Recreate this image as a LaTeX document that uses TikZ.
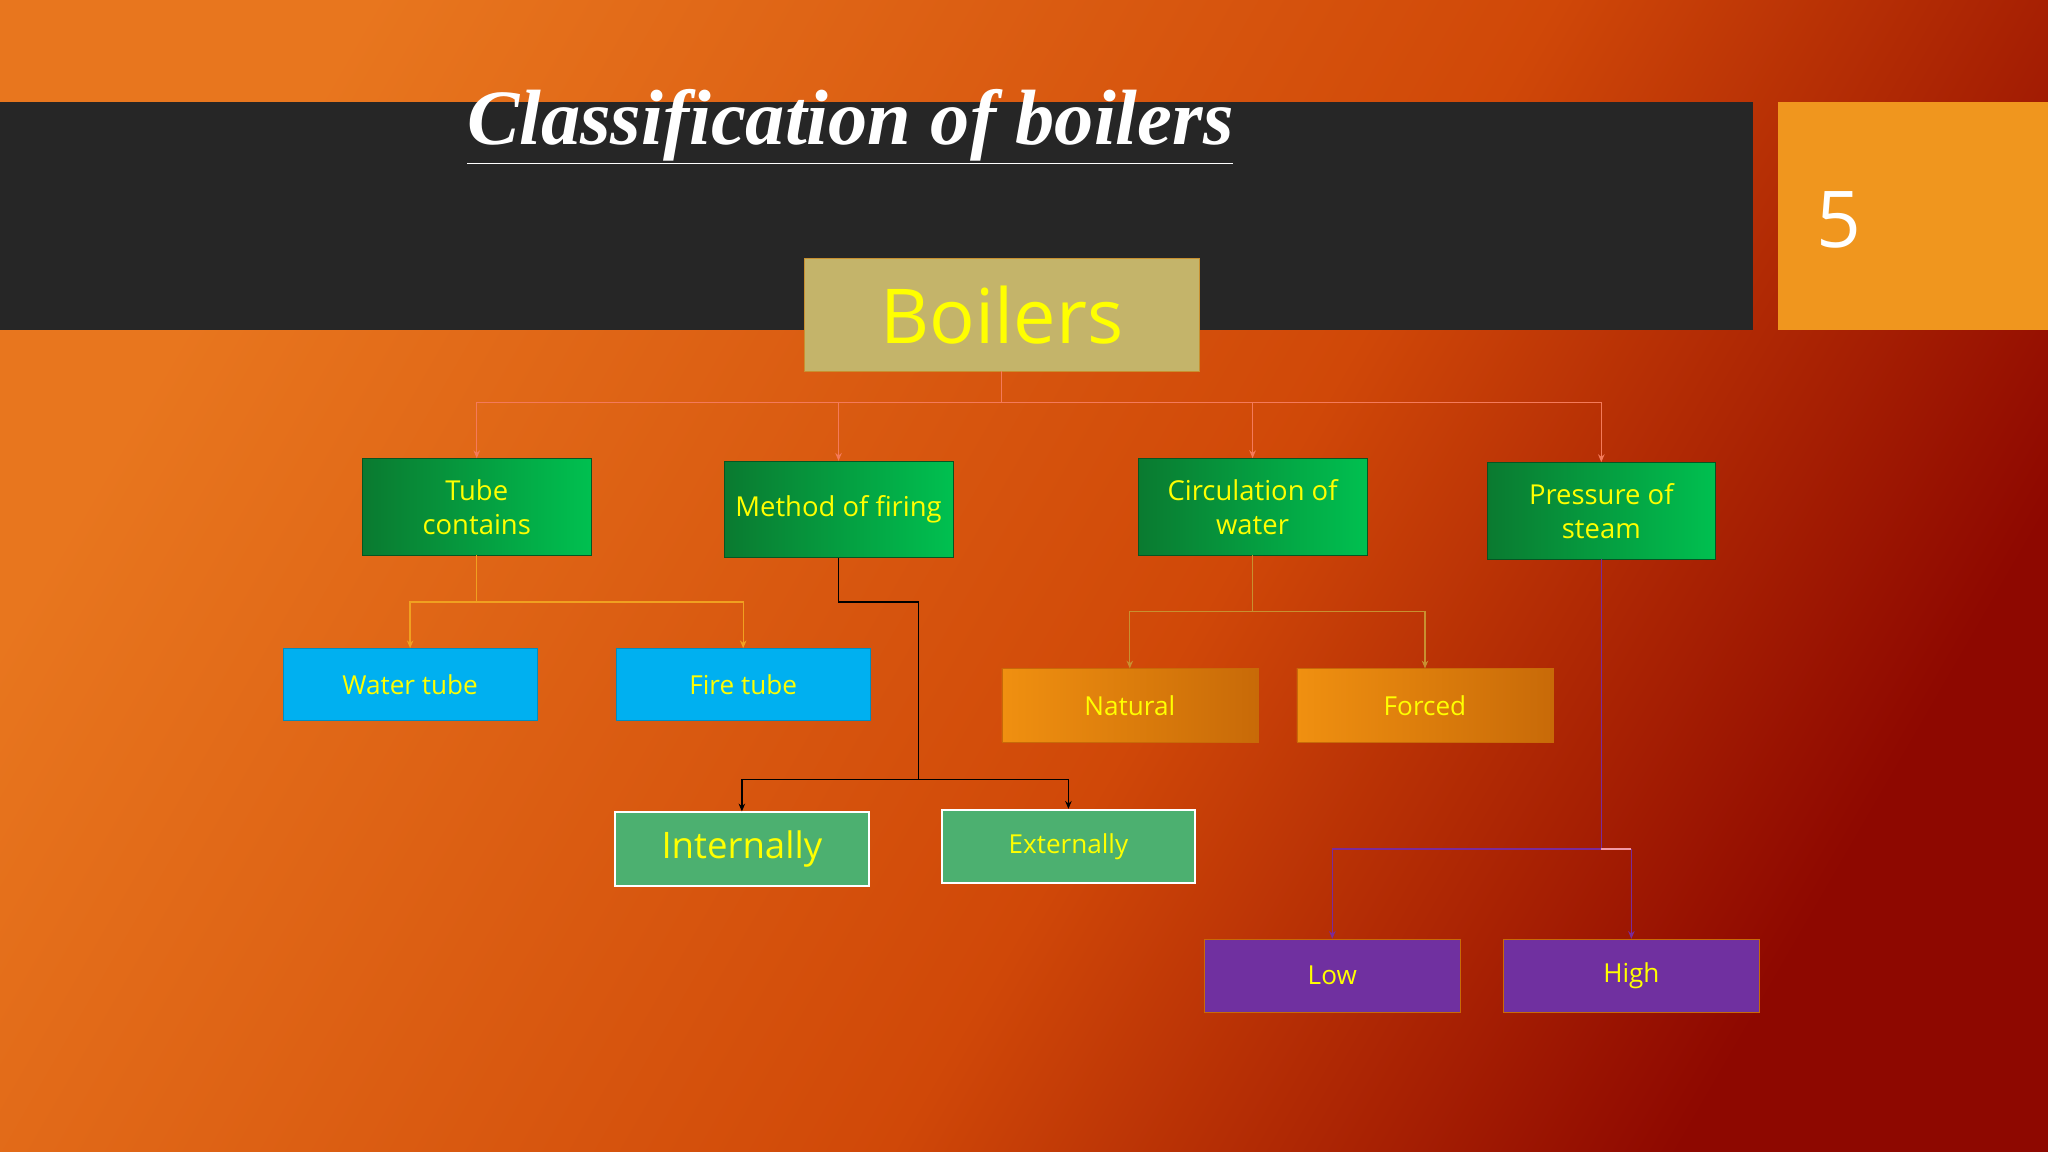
\documentclass[tikz,border=0pt]{standalone}
\usepackage{fontspec}
\setmainfont{Open Sans}
\newfontfamily\titlefont{Liberation Serif}
\usetikzlibrary{arrows.meta}
\definecolor{bgA}{HTML}{E8761E}
\definecolor{bgB}{HTML}{D04808}
\definecolor{bgC}{HTML}{8E0800}
\definecolor{band}{HTML}{262626}
\definecolor{numbox}{HTML}{F0961E}
\definecolor{boil}{HTML}{C4B46A}
\definecolor{ylw}{HTML}{FFFF00}
\definecolor{gdark}{HTML}{0A7A30}
\definecolor{glight}{HTML}{00C050}
\definecolor{cyanbox}{HTML}{00B0F0}
\definecolor{ogreen}{HTML}{4CB070}
\definecolor{orL}{HTML}{F09010}
\definecolor{orD}{HTML}{C86A08}
\definecolor{purp}{HTML}{7030A0}
\definecolor{salmon}{HTML}{F47A5A}
\definecolor{ora}{HTML}{F0A020}
\definecolor{brn}{HTML}{C89030}
\definecolor{pline}{HTML}{7A2A9A}
\pgfdeclarehorizontalshading{bgshade}{100bp}{color(0bp)=(bgA); color(25bp)=(bgA); color(55bp)=(bgB); color(75bp)=(bgC); color(100bp)=(bgC)}
\tikzset{
  bx/.style={minimum width=#1, inner sep=2pt, align=center, text=ylw, font=\fontsize{20}{24}\selectfont},
  greenbox/.style={bx=175pt, minimum height=74pt, left color=gdark, right color=glight, draw=gdark!70!black, font=\fontsize{21}{26}\selectfont},
  cyanb/.style={bx=194pt, minimum height=55pt, fill=cyanbox, draw=cyanbox!80!black},
  grb/.style={bx=194pt, minimum height=56pt, fill=ogreen, draw=white, line width=1.5pt},
  orb/.style={bx=196pt, minimum height=56pt, left color=orL, right color=orD, draw=orD},
  pb/.style={bx=196pt, minimum height=56pt, fill=purp, draw=orD},
  arr/.style={-{Stealth[length=6pt,width=5pt]}, line width=1pt},
}
\begin{document}
\begin{tikzpicture}[x=1pt,y=-1pt]
\useasboundingbox (0,0) rectangle (1568,882);
\shade[shading=bgshade, shading angle=-30] (0,0) rectangle (1568,882);
\fill[band] (0,78) rectangle (1342,253);
\fill[numbox] (1361,78) rectangle (1568,253);
\node[text=white, font=\fontsize{60}{60}\selectfont] (num) at (1408,168) {5};
\node[text=white, font=\titlefont\bfseries\itshape\fontsize{60}{60}\selectfont] (title) at (651,97) {\underline{Classification of boilers}};
\node[minimum width=302pt, minimum height=86pt, fill=boil, draw=brn, text=ylw, font=\fontsize{58}{60}\selectfont] (boil) at (767,241) {Boilers};
\node[greenbox] (tube) at (365,388) {Tube\\contains};
\node[greenbox] (meth) at (642,390) {Method of firing};
\node[greenbox] (circ) at (959,388) {Circulation of\\water};
\node[greenbox] (pres) at (1226,391) {Pressure of\\steam};
\node[cyanb] (wt) at (314,524) {Water tube};
\node[cyanb] (ft) at (569,524) {Fire tube};
\node[grb, font=\fontsize{28}{30}\selectfont] (int) at (568,650) {Internally};
\node[grb] (ext) at (818,648) {Externally};
\node[orb] (nat) at (865,540) {Natural};
\node[orb] (forc) at (1091,540) {Forced};
\node[pb] (low) at (1020,747) {Low};
\node[pb] (high) at (1249,747) {High};
\coordinate (b0) at (767,308);
\draw[salmon, line width=1pt] (boil.south) -- (b0);
\foreach \n in {tube,meth,circ,pres}{
  \draw[salmon, arr] (b0) -| (\n.north);
}
\coordinate (t0) at (365,461);
\draw[ora, line width=1pt] (tube.south) -- (t0);
\draw[ora, arr] (t0) -| (wt.north);
\draw[ora, arr] (t0) -| (ft.north);
\coordinate (m1) at (703,461);
\coordinate (m2) at (703,597);
\draw[black, line width=1pt] (meth.south) |- (m1) -- (m2);
\draw[black, arr] (m2) -| (int.north);
\draw[black, arr] (m2) -| (ext.north);
\coordinate (c0) at (959,468);
\draw[brn, line width=1pt] (circ.south) -- (c0);
\draw[brn, arr] (c0) -| (nat.north);
\draw[brn, arr] (c0) -| (forc.north);
\coordinate (p0) at (1226,650);
\coordinate (p1) at (1249,650);
\draw[pline, line width=1pt] (pres.south) -- (p0);
\draw[pline, arr] (p0) -| (low.north);
\draw[pink!80!purple, line width=1.5pt] (p0) -- (p1);
\draw[pline, arr] (p1) -- (high.north);
\end{tikzpicture}
\end{document}
